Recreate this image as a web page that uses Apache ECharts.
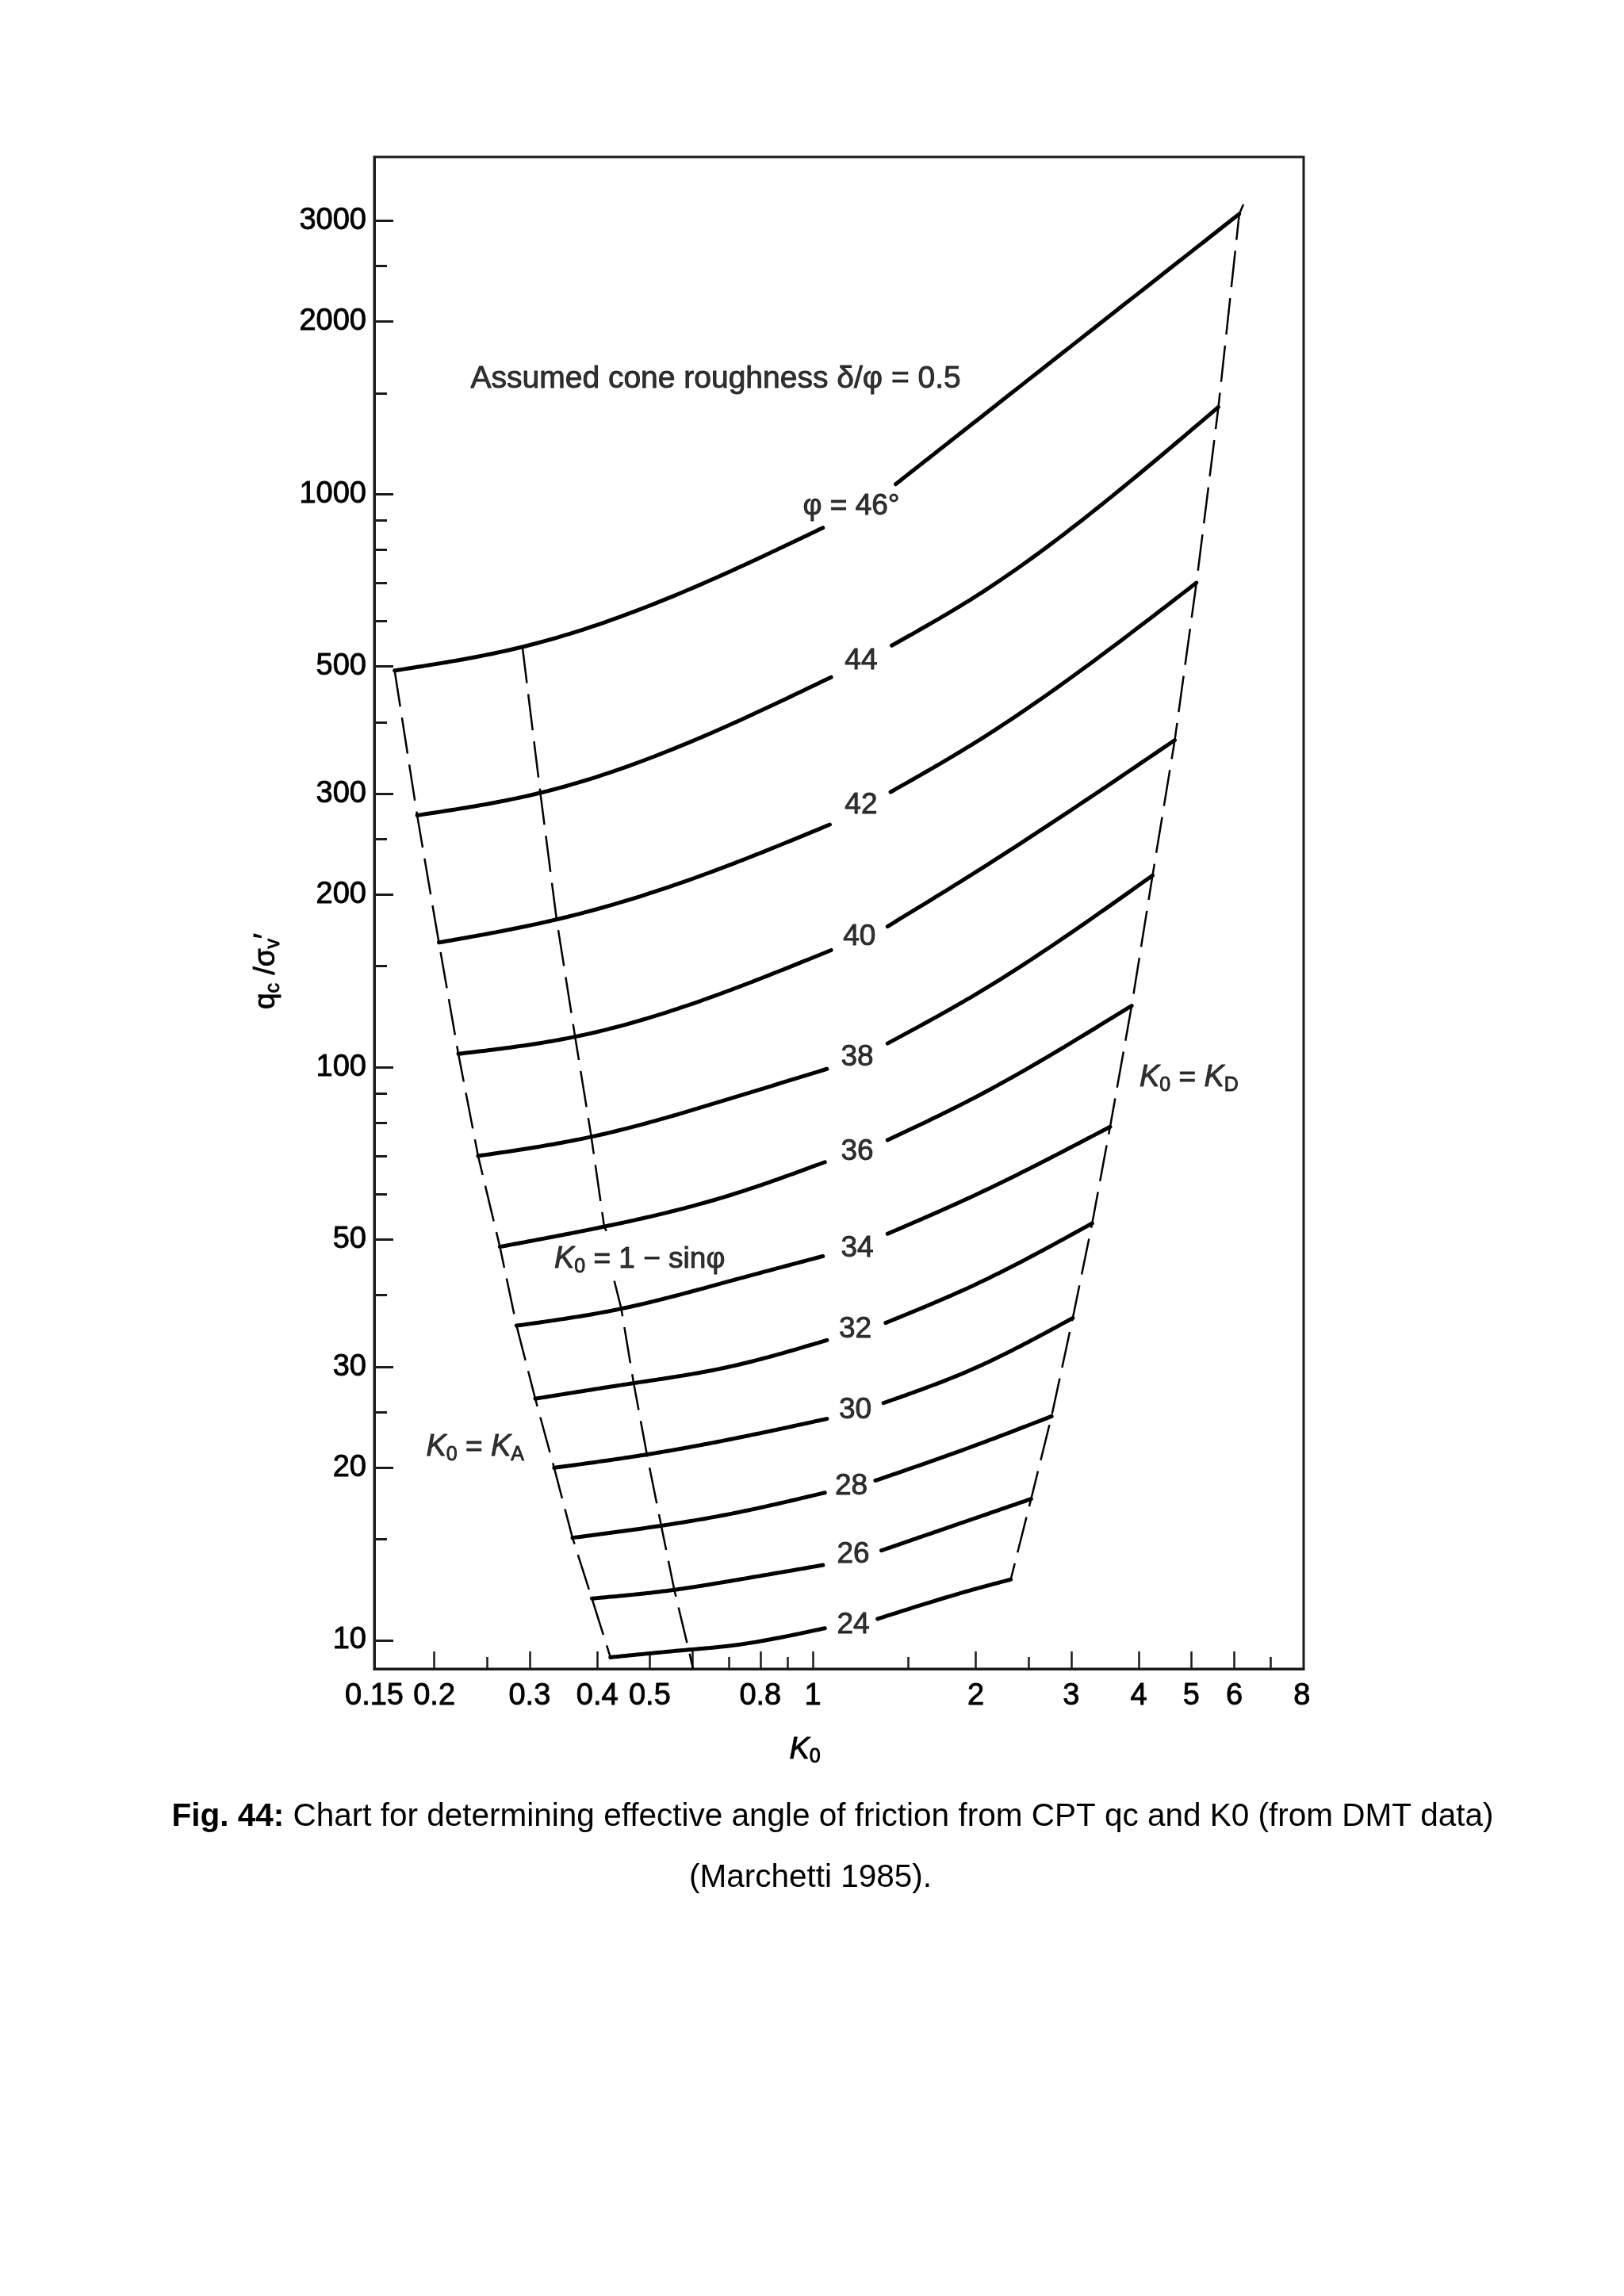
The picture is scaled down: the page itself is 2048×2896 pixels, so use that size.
<!DOCTYPE html>
<html>
<head>
<meta charset="utf-8">
<title>qc/sv' vs K0 (Marchetti 1985)</title>
<script src="https://cdn.jsdelivr.net/npm/echarts@6/dist/echarts.min.js"></script>
<style>
html, body { margin: 0; padding: 0; background: #fff; }
#chart { width: 2048px; height: 2896px; }
</style>
</head>
<body>
<div id="chart"></div>
<script>
// each phi curve: [K0, qc/sv'] points, null = break where the label sits
const phi46 = [[0.169, 492], [0.291, 541], [0.70, 731], [1.044, 873], null, [1.422, 1040], [2.0, 1340], [6.13, 3080]]
const phi44 = [[0.186, 275], [0.314, 301], [0.70, 395], [1.081, 479], null, [1.399, 544], [2.0, 663], [5.61, 1418]]
const phi42 = [[0.204, 165], [0.3365, 181], [0.70, 225], [1.075, 265], null, [1.392, 302], [2.0, 369], [5.11, 700]]
const phi40 = [[0.2216, 105.5], [0.364, 113], [0.70, 136], [1.081, 160], null, [1.374, 176], [2.0, 219], [4.66, 372]]
const phi38 = [[0.241, 70], [0.39, 75.6], [0.70, 88], [1.062, 99.3], null, [1.374, 110], [2.0, 134], [4.24, 216]]
const phi36 = [[0.2644, 48.6], [0.412, 52.7], [0.70, 59.7], [1.053, 68.3], null, [1.374, 74.6], [2.0, 88.7], [3.88, 128]]
const phi34 = [[0.2838, 35.4], [0.443, 37.9], [0.70, 42.3], [1.044, 46.8], null, [1.374, 51.2], [2.0, 59.9], [3.54, 78.7]]
const phi32 = [[0.3073, 26.4], [0.467, 28.1], [0.70, 30.0], [1.062, 33.4], null, [1.363, 35.8], [2.0, 41.8], [3.28, 53.4]]
const phi30 = [[0.333, 20.0], [0.494, 21.1], [0.70, 22.4], [1.062, 24.35], null, [1.351, 25.95], [2.0, 29.9], [3.02, 36.5]]
const phi28 = [[0.360, 15.1], [0.525, 15.85], [0.70, 16.6], [1.053, 18.1], null, [1.305, 19.0], [2.0, 21.9], [2.76, 24.6]]
const phi26 = [[0.391, 11.83], [0.555, 12.25], [0.70, 12.68], [1.044, 13.53], null, [1.339, 14.35], [2.0, 16.35], [2.53, 17.65]]
const phi24 = [[0.423, 9.34], [0.590, 9.63], [0.70, 9.78], [1.053, 10.5], null, [1.317, 10.9], [2.0, 12.3], [2.32, 12.77]]

const phiValues = [46, 44, 42, 40, 38, 36, 34, 32, 30, 28, 26, 24]
const phiCurves = [phi46, phi44, phi42, phi40, phi38, phi36, phi34, phi32, phi30, phi28, phi26, phi24]

// dashed boundary lines (null = break in the line)
const lineKA = [[0.169, 492], [0.186, 275], [0.204, 165], [0.2216, 105.5], [0.241, 70], [0.2644, 48.6], [0.2838, 35.4], [0.3073, 26.4], [0.333, 20], [0.360, 15.1], [0.391, 11.83], [0.423, 9.34]]
const lineSin = [[0.291, 541], [0.314, 301], [0.3365, 181], [0.364, 113], [0.39, 75.6], [0.412, 52.7], [0.416, 51.8], null, [0.430, 42.4], [0.443, 37.9], [0.467, 28.1], [0.494, 21.1], [0.525, 15.85], [0.555, 12.25], [0.590, 9.63], [0.601, 8.92]]
const lineKD = [[6.24, 3200], [6.13, 3080], [5.61, 1418], [5.11, 700], [4.66, 372], [4.24, 216], [3.88, 128], [3.54, 78.7], [3.28, 53.4], [3.02, 36.5], [2.76, 24.6], [2.53, 17.65], [2.32, 12.77]]

// ticks
const xTickLabels = [0.15, 0.2, 0.3, 0.4, 0.5, 0.8, 1, 2, 3, 4, 5, 6, 8]
const xMajorTicks = [0.2, 0.3, 0.4, 0.5, 0.6, 0.8, 1, 2, 3, 4, 5, 6]
const xMinorTicks = [0.25, 0.7, 0.9, 1.5, 2.5, 7]
const yTickLabels = [10, 20, 30, 50, 100, 200, 300, 500, 1000, 2000, 3000]
const yMinorTicks = [15, 25, 40, 60, 70, 80, 90, 150, 250, 400, 600, 700, 800, 900, 1500, 2500]

// where the phi labels sit (data coords), same order as phiValues
const phiLabelAt = [[1.178, 952], [1.228, 511], [1.228, 286], [1.219, 168.7], [1.208, 104], [1.208, 71.2], [1.208, 48.3], [1.198, 34.9], [1.198, 25.2], [1.178, 18.56], [1.188, 14.12], [1.188, 10.64]]

const FONT = "'Liberation Sans', Arial, Helvetica, sans-serif"
const K_MIN = 0.155
const K_MAX = 8.06
const Q_MIN = 8.917
const Q_MAX = 3872

function lg (v) { return Math.log10(v) }

function nearestLabel (list, v) {
  var best = list[0]
  list.forEach(function (t) {
    if (Math.abs(lg(t) - v) < Math.abs(lg(best) - v)) best = t
  })
  return String(best)
}

function splitCurve (pts) {
  var segs = [[]]
  pts.forEach(function (p) {
    if (p === null) segs.push([])
    else segs[segs.length - 1].push([lg(p[0]), lg(p[1])])
  })
  return segs
}

// natural cubic spline through the read points (log-log space), for drawing only
function splinePath (pts) {
  var n = pts.length
  if (n < 3) return pts
  var h = []
  var M = []
  var i, k
  for (i = 0; i < n; i++) M.push(0)
  for (i = 0; i < n - 1; i++) h.push(pts[i + 1][0] - pts[i][0])
  var a = []; var b = []; var c = []; var d = []
  for (i = 1; i < n - 1; i++) {
    a.push(h[i - 1])
    b.push(2 * (h[i - 1] + h[i]))
    c.push(h[i])
    d.push(6 * ((pts[i + 1][1] - pts[i][1]) / h[i] - (pts[i][1] - pts[i - 1][1]) / h[i - 1]))
  }
  var m = b.length
  for (i = 1; i < m; i++) {
    var w = a[i] / b[i - 1]
    b[i] -= w * c[i - 1]
    d[i] -= w * d[i - 1]
  }
  var sol = []
  sol[m - 1] = d[m - 1] / b[m - 1]
  for (i = m - 2; i >= 0; i--) sol[i] = (d[i] - c[i] * sol[i + 1]) / b[i]
  for (i = 0; i < m; i++) M[i + 1] = sol[i]
  var out = []
  for (i = 0; i < n - 1; i++) {
    for (k = 0; k < 30; k++) {
      var x = pts[i][0] + (k / 30) * h[i]
      var A = pts[i + 1][0] - x
      var B = x - pts[i][0]
      var y = M[i] * A * A * A / (6 * h[i]) + M[i + 1] * B * B * B / (6 * h[i]) +
        (pts[i][1] / h[i] - M[i] * h[i] / 6) * A + (pts[i + 1][1] / h[i] - M[i + 1] * h[i] / 6) * B
      out.push([x, y])
    }
  }
  out.push(pts[n - 1])
  return out
}

// scanned text looks heavier than plain regular, thicken it a bit
var ink = { color: '#000', textBorderColor: '#000', textBorderWidth: 0.9 }

var rich = {
  n: Object.assign({ fontFamily: FONT, fontSize: 37, lineHeight: 44, verticalAlign: 'middle' }, ink),
  a: Object.assign({ fontFamily: FONT, fontSize: 39, lineHeight: 44, verticalAlign: 'middle' }, ink),
  i: Object.assign({ fontFamily: FONT, fontSize: 38, fontStyle: 'italic', lineHeight: 44, verticalAlign: 'middle' }, ink),
  s: Object.assign({ fontFamily: FONT, fontSize: 25, lineHeight: 44, verticalAlign: 'bottom' }, ink)
}

// same thing for graphic texts (zrender style names)
var gInk = { fill: '#000', stroke: '#000', lineWidth: 0.9 }
var richG = {
  n: Object.assign({ fontFamily: FONT, fontSize: 37, lineHeight: 44, verticalAlign: 'middle' }, gInk),
  i: Object.assign({ fontFamily: FONT, fontSize: 38, fontStyle: 'italic', lineHeight: 44, verticalAlign: 'middle' }, gInk),
  s: Object.assign({ fontFamily: FONT, fontSize: 25, lineHeight: 44, verticalAlign: 'bottom' }, gInk),
  b: { fontFamily: FONT, fontSize: 40.5, fontWeight: 'bold', fill: '#000', lineHeight: 46 },
  c: { fontFamily: FONT, fontSize: 40.5, fill: '#000', lineHeight: 46 }
}

var series = []

phiCurves.forEach(function (curve) {
  splitCurve(curve).forEach(function (seg) {
    series.push({
      type: 'custom',
      coordinateSystem: 'cartesian2d',
      data: seg,
      silent: true,
      z: 3,
      renderItem: function (params, api) {
        if (params.dataIndex !== 0) return
        var px = splinePath(seg).map(function (p) { return api.coord(p) })
        return {
          type: 'polyline',
          shape: { points: px },
          style: { stroke: '#000', lineWidth: 5, fill: null, lineCap: 'round', lineJoin: 'round' }
        }
      }
    })
  })
})

;[lineKA, lineSin, lineKD].forEach(function (ln) {
  splitCurve(ln).forEach(function (seg) {
    series.push({
      type: 'line',
      data: seg,
      symbol: 'none',
      silent: true,
      z: 2,
      lineStyle: { color: '#000', width: 2.5, type: [46, 14] }
    })
  })
})

// text on the plot
var notes = phiValues.map(function (phi, i) {
  return {
    value: [lg(phiLabelAt[i][0]), lg(phiLabelAt[i][1])],
    text: phi === 46 ? '{n|φ = 46°}' : '{n|' + phi + '}'
  }
})
notes.push({ value: [lg(0.662), lg(1588)], text: '{a|Assumed cone roughness δ/φ = 0.5}' })
notes.push({ value: [lg(0.238), lg(21.7)], text: '{i|K}{s|0}{n| = }{i|K}{s|A}' })
notes.push({ value: [lg(0.479), lg(46.2)], text: '{i|K}{s|0}{n| = 1 − sin}{n|φ}' })
notes.push({ value: [lg(4.95), lg(95.8)], text: '{i|K}{s|0}{n| = }{i|K}{s|D}' })

series.push({
  type: 'scatter',
  symbolSize: 1,
  silent: true,
  z: 5,
  itemStyle: { color: 'transparent' },
  data: notes.map(function (d) {
    return {
      value: d.value,
      label: { show: true, position: 'inside', formatter: d.text, rich: rich }
    }
  })
})

var xBase = {
  type: 'value',
  gridIndex: 0,
  position: 'bottom',
  min: lg(K_MIN),
  max: lg(K_MAX),
  splitLine: { show: false },
  axisLine: { onZero: false, lineStyle: { color: '#1a1a1a', width: 3 } }
}
var yBase = {
  type: 'value',
  gridIndex: 0,
  position: 'left',
  min: lg(Q_MIN),
  max: lg(Q_MAX),
  splitLine: { show: false },
  axisLine: { onZero: false, lineStyle: { color: '#1a1a1a', width: 3 } }
}

var tickText = Object.assign({ fontFamily: FONT, fontSize: 38 }, ink)

var option = {
  animation: false,
  backgroundColor: '#fff',
  grid: {
    left: 472, top: 198, width: 1172, height: 1907,
    show: true, borderColor: '#1a1a1a', borderWidth: 3
  },
  xAxis: [
    Object.assign({}, xBase, {
      axisTick: {
        inside: true, length: 22,
        customValues: xMajorTicks.map(lg),
        lineStyle: { color: '#1a1a1a', width: 2.5 }
      },
      axisLabel: Object.assign({
        customValues: xTickLabels.map(function (t) { return lg(Math.max(t, K_MIN)) }),
        formatter: function (v) { return nearestLabel(xTickLabels, v) },
        margin: 16
      }, tickText)
    }),
    Object.assign({}, xBase, {
      axisLine: { show: false, onZero: false },
      axisLabel: { show: false },
      axisTick: {
        inside: true, length: 15,
        customValues: xMinorTicks.map(lg),
        lineStyle: { color: '#1a1a1a', width: 2.5 }
      }
    })
  ],
  yAxis: [
    Object.assign({}, yBase, {
      axisTick: {
        inside: true, length: 24,
        customValues: yTickLabels.map(lg),
        lineStyle: { color: '#1a1a1a', width: 3 }
      },
      axisLabel: Object.assign({
        customValues: yTickLabels.map(lg),
        formatter: function (v) { return nearestLabel(yTickLabels, v) },
        margin: 10
      }, tickText)
    }),
    Object.assign({}, yBase, {
      axisLine: { show: false, onZero: false },
      axisLabel: { show: false },
      axisTick: {
        inside: true, length: 16,
        customValues: yMinorTicks.map(lg),
        lineStyle: { color: '#1a1a1a', width: 3 }
      }
    })
  ],
  graphic: [
    {
      type: 'text', x: 336, y: 1225, rotation: Math.PI / 2,
      style: { text: '{n|q}{s|c}{n| /σ}{s|v}{n|′}', rich: richG, align: 'center', verticalAlign: 'middle' }
    },
    {
      type: 'text', x: 1015, y: 2207,
      style: { text: '{i|K}{s|0}', rich: richG, align: 'center', verticalAlign: 'middle' }
    },
    {
      type: 'text', x: 1050, y: 2292,
      style: { text: '{b|Fig. 44:}{c| Chart for determining effective angle of friction from CPT qc and K0 (from DMT data)}', rich: richG, align: 'center', verticalAlign: 'middle' }
    },
    {
      type: 'text', x: 1022, y: 2369,
      style: { text: '{c|(Marchetti 1985).}', rich: richG, align: 'center', verticalAlign: 'middle' }
    }
  ],
  series: series
}

var chart = echarts.init(document.getElementById('chart'))
chart.setOption(option)
</script>
</body>
</html>
